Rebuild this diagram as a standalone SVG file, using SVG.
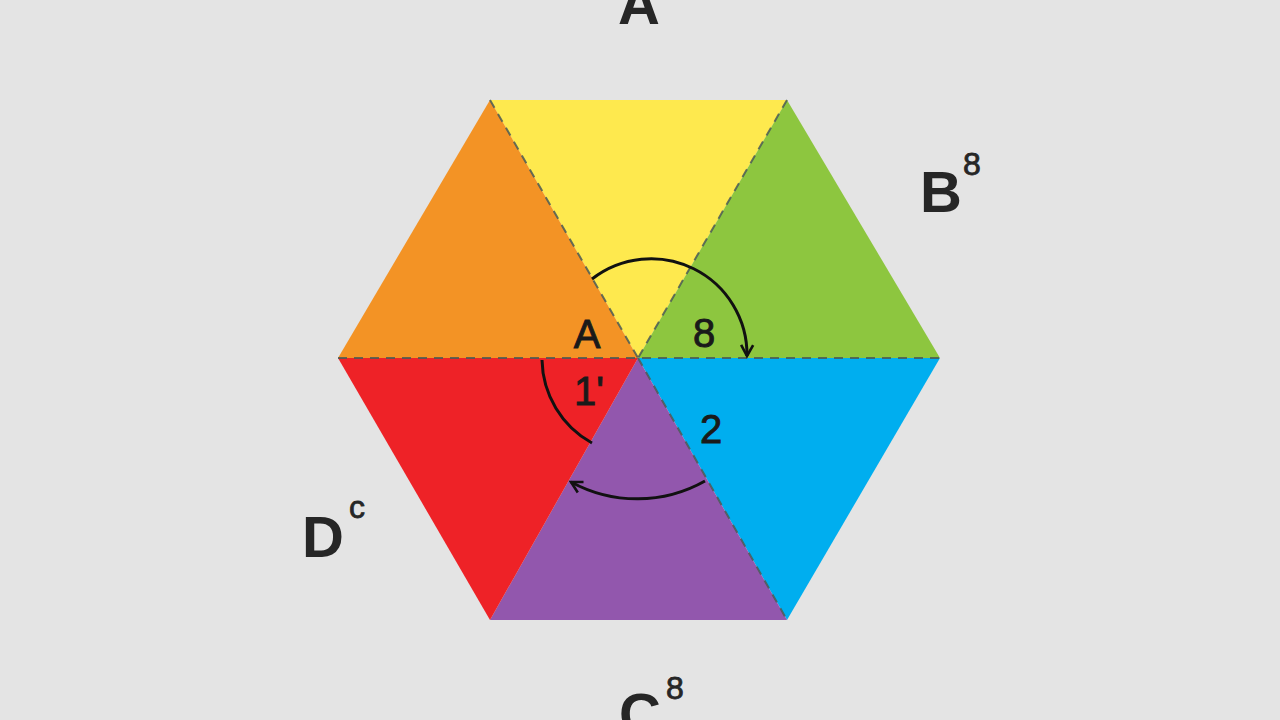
<svg xmlns="http://www.w3.org/2000/svg" width="1280" height="720" viewBox="0 0 1280 720">
<defs>
<style>
.lbl{font-family:"Liberation Sans",Arial,sans-serif;fill:#262626;}
.out{font-weight:bold;font-size:58px;}
.sup{font-size:32px;stroke:#262626;stroke-width:0.8;}
.in{font-size:40px;fill:#1a1a1a;stroke:#1a1a1a;stroke-width:0.9;}
.dash{stroke:#4a5a55;stroke-width:2;stroke-dasharray:9 7;fill:none;opacity:0.85;}
.arc{stroke:#111;stroke-width:3;fill:none;}
</style>
<marker id="ah" viewBox="0 0 16 16" refX="13" refY="8" markerWidth="16" markerHeight="16" markerUnits="userSpaceOnUse" orient="auto">
<path d="M2,2 L13,8 L2,14" fill="none" stroke="#111" stroke-width="2.6"/>
</marker>
</defs>
<rect width="1280" height="720" fill="#E4E4E4"/>
<g id="hexagon">
<polygon id="tri-yellow" points="490,100 787,100 638,358" fill="#FEE94E"/>
<polygon id="tri-green" points="787,100 940,358 638,358" fill="#8DC63F"/>
<polygon id="tri-blue" points="940,358 787,620 638,358" fill="#00AEEF"/>
<polygon id="tri-purple" points="787,620 490,620 638,358" fill="#9257AD"/>
<polygon id="tri-red" points="490,620 338,358 638,358" fill="#EE2227"/>
<polygon id="tri-orange" points="338,358 490,100 638,358" fill="#F39325"/>
</g>
<g id="dividers">
<line class="dash" x1="490" y1="100" x2="638" y2="358"/>
<line class="dash" x1="787" y1="100" x2="638" y2="358"/>
<line class="dash" x1="338" y1="358" x2="940" y2="358"/>
<line class="dash" x1="638" y1="358" x2="787" y2="620" opacity="0.5"/>
</g>
<g id="connectors">
<path class="arc" d="M592,279 A96,96 0 0 1 747,356" marker-end="url(#ah)"/>
<path class="arc" d="M592,443 A97,97 0 0 1 542,360"/>
<path class="arc" d="M705,481 A138,138 0 0 1 571,482" marker-end="url(#ah)"/>
</g>
<g id="inner-labels">
<text class="lbl in" x="587" y="348" text-anchor="middle">A</text>
<text class="lbl in" x="704" y="347" text-anchor="middle">8</text>
<text class="lbl in" x="589" y="405" text-anchor="middle">1'</text>
<text class="lbl in" x="711" y="443" text-anchor="middle">2</text>
</g>
<g id="label-A"><text class="lbl out" x="639" y="24" text-anchor="middle">A</text></g>
<g id="label-B"><text class="lbl out" x="941" y="212" text-anchor="middle">B</text><text class="lbl sup" x="972" y="175" text-anchor="middle">8</text></g>
<g id="label-D"><text class="lbl out" x="323" y="557" text-anchor="middle">D</text><text class="lbl sup" x="357" y="518" text-anchor="middle">c</text></g>
<g id="label-C"><text class="lbl out" x="640" y="734" text-anchor="middle">C</text><text class="lbl sup" x="675" y="699" text-anchor="middle">8</text></g>
</svg>
